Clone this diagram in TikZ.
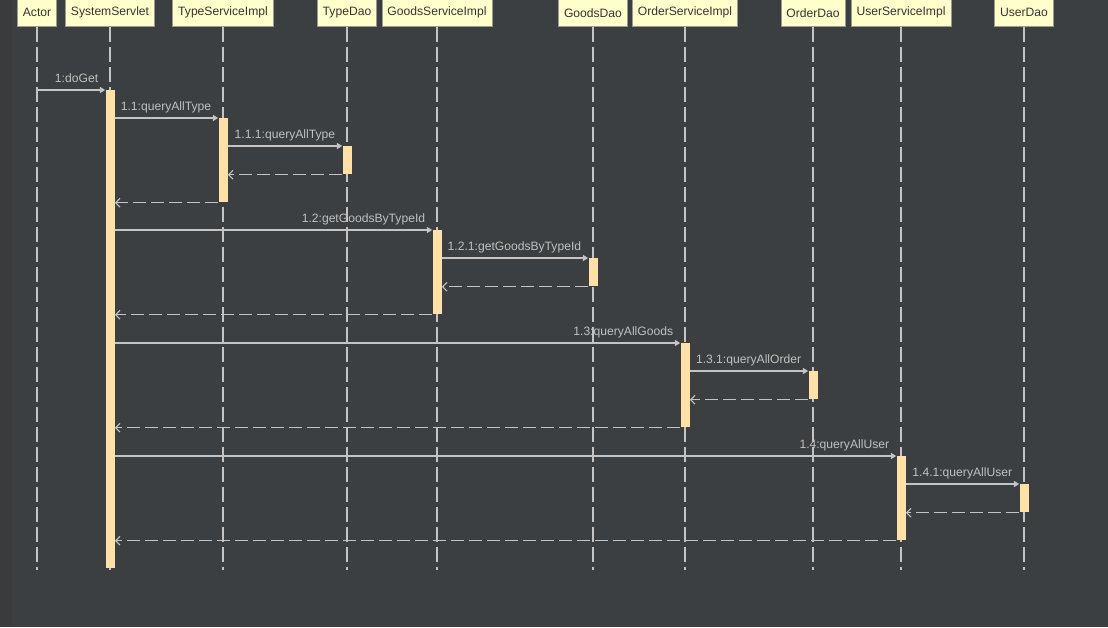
\documentclass[tikz,border=0pt]{standalone}
\usepackage{fontspec}
\setmainfont{Liberation Sans}
\usetikzlibrary{arrows.meta}
\definecolor{bgc}{HTML}{3C3F41}
\definecolor{stripc}{HTML}{393B3D}
\definecolor{hdrfill}{HTML}{FFFFCC}
\definecolor{hdrline}{HTML}{9A9A90}
\definecolor{hdrtxt}{HTML}{333333}
\definecolor{barfill}{HTML}{FFE0A6}
\definecolor{linec}{HTML}{C4C4C4}
\definecolor{txtc}{HTML}{C0C0C0}
\begin{document}
\begin{tikzpicture}[
    x=0.02cm, y=-0.02cm,
    every node/.style={font=\fontsize{6.9}{8}\selectfont},
    head/.style={draw=hdrline, fill=hdrfill, text=hdrtxt, anchor=north, minimum height=0.54cm, inner xsep=0.11cm, inner ysep=0pt},
    life/.style={draw=linec, line width=0.6pt, dash pattern=on 0.3cm off 0.1cm},
    bar/.style={fill=barfill, anchor=north, minimum width=0.18cm, inner sep=0pt},
    call/.style={draw=linec, line width=0.6pt, -{Triangle[length=3pt,width=3.5pt]}},
    ret/.style={draw=linec, line width=0.6pt, dash pattern=on 0.26cm off 0.1cm, -{Straight Barb[length=2.5pt,width=5pt]}},
    msg/.style={text=txtc, anchor=base east, xshift=-3.7pt, yshift=4.5pt, inner sep=0pt}
]
    \useasboundingbox (0,0) rectangle (1108,627);
    \fill[bgc] (0,0) rectangle (1108,627);
    \fill[stripc] (0,0) rectangle (12,627);

    % Lifelines
    \node[head] (actor) at (37,-1)   {Actor};
    \node[head] (srv)   at (110,-1)  {SystemServlet};
    \node[head] (tsi)   at (223,-1)  {TypeServiceImpl};
    \node[head] (tdao)  at (347,-1)  {TypeDao};
    \node[head] (gsi)   at (437,-1)  {GoodsServiceImpl};
    \node[head] (gdao)  at (593,-1)  {GoodsDao};
    \node[head] (osi)   at (685,-1)  {OrderServiceImpl};
    \node[head] (odao)  at (813,-1)  {OrderDao};
    \node[head] (usi)   at (901,-1)  {UserServiceImpl};
    \node[head] (udao)  at (1024,-1) {UserDao};
    \coordinate (bot) at (0,570);

    \draw[life] (actor.south) -- (actor.south |- bot);
    \draw[life] (srv.south)   -- (srv.south |- bot);
    \draw[life] (tsi.south)   -- (tsi.south |- bot);
    \draw[life] (tdao.south)  -- (tdao.south |- bot);
    \draw[life] (gsi.south)   -- (gsi.south |- bot);
    \draw[life] (gdao.south)  -- (gdao.south |- bot);
    \draw[life] (osi.south)   -- (osi.south |- bot);
    \draw[life] (odao.south)  -- (odao.south |- bot);
    \draw[life] (usi.south)   -- (usi.south |- bot);
    \draw[life] (udao.south)  -- (udao.south |- bot);

    % Activations
    \node[bar, minimum height=9.56cm] (a0) at (110,90)  {};
    \node[bar, minimum height=1.68cm] (a1) at (223,118) {};
    \node[bar, minimum height=0.56cm] (a2) at (347,146) {};
    \node[bar, minimum height=1.68cm] (a3) at (437,230) {};
    \node[bar, minimum height=0.56cm] (a4) at (593,258) {};
    \node[bar, minimum height=1.68cm] (a5) at (685,343) {};
    \node[bar, minimum height=0.56cm] (a6) at (813,371) {};
    \node[bar, minimum height=1.68cm] (a7) at (901,456) {};
    \node[bar, minimum height=0.56cm] (a8) at (1024,484) {};

    % Messages
    \draw[call] (actor.south |- a0.north) -- (a0.north west) node[msg] {1:doGet};
    \draw[call] (a0.east |- a1.north) -- (a1.north west) node[msg] {1.1:queryAllType};
    \draw[call] (a1.east |- a2.north) -- (a2.north west) node[msg] {1.1.1:queryAllType};
    \draw[ret]  (a2.south west) -- (a1.east |- a2.south);
    \draw[ret]  (a1.south west) -- (a0.east |- a1.south);
    \draw[call] (a0.east |- a3.north) -- (a3.north west) node[msg] {1.2:getGoodsByTypeId};
    \draw[call] (a3.east |- a4.north) -- (a4.north west) node[msg] {1.2.1:getGoodsByTypeId};
    \draw[ret]  (a4.south west) -- (a3.east |- a4.south);
    \draw[ret]  (a3.south west) -- (a0.east |- a3.south);
    \draw[call] (a0.east |- a5.north) -- (a5.north west) node[msg] {1.3:queryAllGoods};
    \draw[call] (a5.east |- a6.north) -- (a6.north west) node[msg] {1.3.1:queryAllOrder};
    \draw[ret]  (a6.south west) -- (a5.east |- a6.south);
    \draw[ret]  (a5.south west) -- (a0.east |- a5.south);
    \draw[call] (a0.east |- a7.north) -- (a7.north west) node[msg] {1.4:queryAllUser};
    \draw[call] (a7.east |- a8.north) -- (a8.north west) node[msg] {1.4.1:queryAllUser};
    \draw[ret]  (a8.south west) -- (a7.east |- a8.south);
    \draw[ret]  (a7.south west) -- (a0.east |- a7.south);
\end{tikzpicture}
\end{document}
